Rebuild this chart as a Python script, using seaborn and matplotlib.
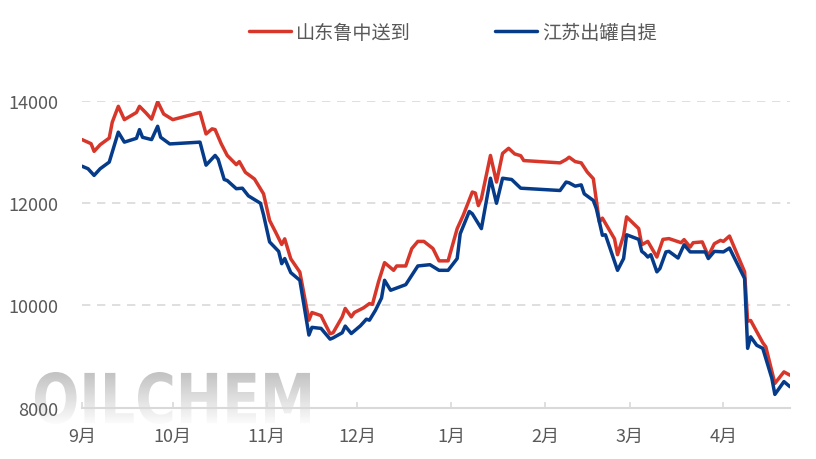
import pandas as pd
import numpy as np
import matplotlib
matplotlib.use('Agg')
import matplotlib.pyplot as plt
from matplotlib.textpath import TextPath
from matplotlib.patches import PathPatch
from matplotlib.font_manager import FontProperties
from matplotlib.colors import LinearSegmentedColormap
import seaborn as sns

# ---- data ----
series_names = ['山东鲁中送到', '江苏出罐自提']

red_dates = [
    '2024-09-01', '2024-09-04', '2024-09-05', '2024-09-07', '2024-09-10', '2024-09-11',
    '2024-09-13', '2024-09-15', '2024-09-19', '2024-09-20', '2024-09-22', '2024-09-24',
    '2024-09-26', '2024-09-28', '2024-10-01', '2024-10-10', '2024-10-12', '2024-10-14',
    '2024-10-15', '2024-10-17', '2024-10-19', '2024-10-22', '2024-10-23', '2024-10-25',
    '2024-10-28', '2024-10-31', '2024-11-02', '2024-11-04', '2024-11-06', '2024-11-07',
    '2024-11-09', '2024-11-12', '2024-11-15', '2024-11-16', '2024-11-19', '2024-11-20',
    '2024-11-22', '2024-11-23', '2024-11-26', '2024-11-27', '2024-11-29', '2024-11-30',
    '2024-12-03', '2024-12-05', '2024-12-06', '2024-12-08', '2024-12-10', '2024-12-13',
    '2024-12-14', '2024-12-17', '2024-12-19', '2024-12-21', '2024-12-23', '2024-12-26',
    '2024-12-28', '2024-12-31', '2025-01-03', '2025-01-05', '2025-01-08', '2025-01-09',
    '2025-01-10', '2025-01-11', '2025-01-14', '2025-01-16', '2025-01-18', '2025-01-20',
    '2025-01-22', '2025-01-24', '2025-01-25', '2025-02-06', '2025-02-08', '2025-02-09',
    '2025-02-11', '2025-02-13', '2025-02-15', '2025-02-17', '2025-02-19', '2025-02-20',
    '2025-02-24', '2025-02-25', '2025-02-27', '2025-02-28', '2025-03-04', '2025-03-05',
    '2025-03-07', '2025-03-10', '2025-03-12', '2025-03-14', '2025-03-18', '2025-03-19',
    '2025-03-21', '2025-03-22', '2025-03-25', '2025-03-27', '2025-03-29', '2025-03-31',
    '2025-04-01', '2025-04-03', '2025-04-08', '2025-04-09', '2025-04-10', '2025-04-14',
    '2025-04-15', '2025-04-18', '2025-04-21', '2025-04-23',
]
red_values = [
    13240, 13160, 13010, 13140, 13270, 13580,
    13890, 13630, 13770, 13890, 13770, 13640,
    13980, 13740, 13630, 13770, 13350, 13450,
    13435, 13160, 12930, 12750, 12810, 12600,
    12470, 12180, 11660, 11430, 11190, 11300,
    10910, 10650, 9710, 9860, 9800, 9680,
    9445, 9465, 9775, 9940, 9775, 9860,
    9950, 10035, 10020, 10460, 10835, 10685,
    10770, 10770, 11110, 11250, 11250, 11110,
    10870, 10870, 11500, 11760, 12215, 12195,
    11950, 12085, 12930, 12410, 12970, 13070,
    12960, 12925, 12830, 12785, 12850, 12895,
    12810, 12785, 12605, 12475, 11630, 11705,
    11300, 10990, 11365, 11730, 11500, 11185,
    11250, 10945, 11290, 11305, 11225, 11285,
    11140, 11225, 11240, 10965, 11205, 11270,
    11250, 11355, 10655, 9690, 9705, 9270,
    9190, 8475, 8700, 8635,
]

blue_dates = [
    '2024-09-01', '2024-09-03', '2024-09-05', '2024-09-07', '2024-09-10', '2024-09-13',
    '2024-09-15', '2024-09-19', '2024-09-20', '2024-09-21', '2024-09-24', '2024-09-26',
    '2024-09-27', '2024-09-30', '2024-10-10', '2024-10-12', '2024-10-15', '2024-10-16',
    '2024-10-18', '2024-10-19', '2024-10-22', '2024-10-24', '2024-10-26', '2024-10-30',
    '2024-10-31', '2024-11-02', '2024-11-05', '2024-11-06', '2024-11-07', '2024-11-09',
    '2024-11-12', '2024-11-15', '2024-11-16', '2024-11-19', '2024-11-22', '2024-11-23',
    '2024-11-26', '2024-11-27', '2024-11-29', '2024-12-02', '2024-12-04', '2024-12-05',
    '2024-12-07', '2024-12-09', '2024-12-10', '2024-12-12', '2024-12-17', '2024-12-21',
    '2024-12-25', '2024-12-28', '2024-12-31', '2025-01-03', '2025-01-04', '2025-01-07',
    '2025-01-08', '2025-01-11', '2025-01-14', '2025-01-16', '2025-01-18', '2025-01-21',
    '2025-01-24', '2025-02-06', '2025-02-08', '2025-02-09', '2025-02-11', '2025-02-13',
    '2025-02-14', '2025-02-17', '2025-02-18', '2025-02-20', '2025-02-21', '2025-02-25',
    '2025-02-27', '2025-02-28', '2025-03-04', '2025-03-05', '2025-03-06', '2025-03-07',
    '2025-03-08', '2025-03-10', '2025-03-11', '2025-03-13', '2025-03-14', '2025-03-17',
    '2025-03-19', '2025-03-21', '2025-03-26', '2025-03-27', '2025-03-29', '2025-04-01',
    '2025-04-03', '2025-04-08', '2025-04-09', '2025-04-10', '2025-04-12', '2025-04-14',
    '2025-04-17', '2025-04-18', '2025-04-21', '2025-04-23',
]
blue_values = [
    12720, 12670, 12540, 12670, 12800, 13385,
    13190, 13265, 13435, 13285, 13240, 13500,
    13285, 13155, 13190, 12740, 12930, 12855,
    12460, 12440, 12280, 12290, 12140, 11995,
    11770, 11240, 11055, 10815, 10915, 10640,
    10490, 9420, 9570, 9550, 9340, 9365,
    9465, 9595, 9450, 9600, 9730, 9710,
    9905, 10145, 10490, 10295, 10405, 10770,
    10795, 10685, 10685, 10915, 11400, 11835,
    11790, 11500, 12485, 11995, 12485, 12460,
    12290, 12245, 12410, 12395, 12330, 12355,
    12180, 12050, 11890, 11370, 11380, 10685,
    10915, 11380, 11290, 11055, 11010, 10945,
    10990, 10655, 10720, 11045, 11055, 10925,
    11185, 11045, 11045, 10915, 11055, 11045,
    11120, 10525, 9160, 9385, 9220, 9160,
    8575, 8260, 8510, 8410,
]

month_ticks = ['2024-09-01', '2024-10-01', '2024-11-01', '2024-12-01',
               '2025-01-01', '2025-02-01', '2025-03-01', '2025-04-01']
month_labels = ['9月', '10月', '11月', '12月', '1月', '2月', '3月', '4月']
y_ticks = [8000, 10000, 12000, 14000]

# ---- style ----
COLORS = ['#D7372A', '#063B8A']
TEXT_COLOR = '#595959'
GRID_COLOR = '#D9D9D9'

sns.set_style('white')
plt.rcParams['font.family'] = ['Noto Sans CJK SC', 'DejaVu Sans']

df = pd.concat([
    pd.DataFrame({'date': pd.to_datetime(red_dates), 'price': red_values, 'series': series_names[0]}),
    pd.DataFrame({'date': pd.to_datetime(blue_dates), 'price': blue_values, 'series': series_names[1]}),
], ignore_index=True)

fig = plt.figure(figsize=(8.16, 4.6), dpi=100)

# watermark with a vertical grey gradient
wm_ax = fig.add_axes([35 / 816, 1 - 425 / 460, 275 / 816, 52 / 460], zorder=0)
wm_ax.axis('off')
tp = TextPath((0, 0), 'OILCHEM', size=1, prop=FontProperties(family='DejaVu Sans', weight='bold'))
bb = tp.get_extents()
wm_ax.set_xlim(bb.x0, bb.x1)
wm_ax.set_ylim(bb.y0, bb.y1)
grad = np.linspace(1, 0, 100).reshape(-1, 1)
cmap = LinearSegmentedColormap.from_list('wm', ['#FCFCFC', '#C2C2C2'])
im = wm_ax.imshow(grad, extent=[bb.x0, bb.x1, bb.y0, bb.y1], cmap=cmap, aspect='auto', origin='upper')
patch = PathPatch(tp, facecolor='none', edgecolor='none', transform=wm_ax.transData)
wm_ax.add_patch(patch)
im.set_clip_path(patch)

ax = fig.add_axes([82 / 816, 1 - 408.7 / 460, (790 - 82) / 816, (408.7 - 101.7) / 460], zorder=1)
ax.set_facecolor('none')

sns.lineplot(data=df, x='date', y='price', hue='series', hue_order=series_names,
             palette=COLORS, linewidth=2.5, ax=ax, legend=False)

ax.set_xlim(pd.Timestamp(red_dates[0]), pd.Timestamp(red_dates[-1]))
ax.set_ylim(8000, 14000)
ax.set_yticks(y_ticks)
ax.set_xticks(pd.to_datetime(month_ticks))
ax.set_xticklabels(month_labels)

ax.yaxis.grid(True, linestyle=(0, (5, 4)), color=GRID_COLOR, linewidth=1.2)
ax.xaxis.grid(False)
for s in ['top', 'right', 'left']:
    ax.spines[s].set_visible(False)
ax.spines['bottom'].set_color(GRID_COLOR)
ax.spines['bottom'].set_linewidth(1.5)
ax.spines['bottom'].set_zorder(0)

ax.tick_params(axis='y', length=0, pad=17, labelsize=13, labelcolor=TEXT_COLOR)
ax.tick_params(axis='x', direction='in', length=4.5, width=1.2, color=GRID_COLOR,
               pad=14, labelsize=13, labelcolor=TEXT_COLOR, bottom=True)
ax.set_xlabel('')
ax.set_ylabel('')

# legend on top
handles = [plt.Line2D([], [], color=c, linewidth=2.5) for c in COLORS]
fig.legend(handles, series_names, loc='center', bbox_to_anchor=(0.555, 0.928), ncol=2,
           frameon=False, fontsize=13.8, labelcolor=TEXT_COLOR,
           handlelength=2.2, handletextpad=0.25, columnspacing=4.4)

fig.savefig('out.png', dpi=100)
